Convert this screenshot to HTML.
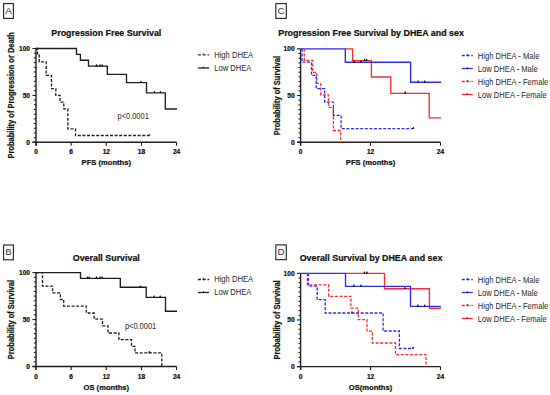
<!DOCTYPE html><html><head><meta charset="utf-8"><style>html,body{margin:0;padding:0;background:#fff;}svg{display:block;}</style></head><body>
<svg width="550" height="395" viewBox="0 0 550 395" font-family='"Liberation Sans", sans-serif'>
<style>.b{font-weight:bold;fill:#111;stroke:#111;stroke-width:0.22}.r{fill:#303030;stroke:#303030;stroke-width:0.05}</style>
<rect width="550" height="395" fill="#fff"/>
<rect x="3.6" y="3.6" width="9.8" height="14.8" fill="none" stroke="#1e1e1e" stroke-width="1.1"/>
<text x="8.50" y="13.50" font-size="9.8" text-anchor="middle" fill="#333">A</text>
<path d="M36.0,48.5 V145.5" stroke="#1e1e1e" stroke-width="1.4" fill="none"/>
<path d="M32.4,142.3 H176.6" stroke="#1e1e1e" stroke-width="1.4" fill="none"/>
<path d="M32.4,142.30 H36.0" stroke="#1e1e1e" stroke-width="1.1" fill="none"/>
<path d="M32.4,95.40 H36.0" stroke="#1e1e1e" stroke-width="1.1" fill="none"/>
<path d="M32.4,48.50 H36.0" stroke="#1e1e1e" stroke-width="1.1" fill="none"/>
<path d="M33.8,137.61 H36.0" stroke="#1e1e1e" stroke-width="1.05" fill="none"/>
<path d="M33.8,132.92 H36.0" stroke="#1e1e1e" stroke-width="1.05" fill="none"/>
<path d="M33.8,128.23 H36.0" stroke="#1e1e1e" stroke-width="1.05" fill="none"/>
<path d="M33.8,123.54 H36.0" stroke="#1e1e1e" stroke-width="1.05" fill="none"/>
<path d="M33.8,118.85 H36.0" stroke="#1e1e1e" stroke-width="1.05" fill="none"/>
<path d="M33.8,114.16 H36.0" stroke="#1e1e1e" stroke-width="1.05" fill="none"/>
<path d="M33.8,109.47 H36.0" stroke="#1e1e1e" stroke-width="1.05" fill="none"/>
<path d="M33.8,104.78 H36.0" stroke="#1e1e1e" stroke-width="1.05" fill="none"/>
<path d="M33.8,100.09 H36.0" stroke="#1e1e1e" stroke-width="1.05" fill="none"/>
<path d="M33.8,90.71 H36.0" stroke="#1e1e1e" stroke-width="1.05" fill="none"/>
<path d="M33.8,86.02 H36.0" stroke="#1e1e1e" stroke-width="1.05" fill="none"/>
<path d="M33.8,81.33 H36.0" stroke="#1e1e1e" stroke-width="1.05" fill="none"/>
<path d="M33.8,76.64 H36.0" stroke="#1e1e1e" stroke-width="1.05" fill="none"/>
<path d="M33.8,71.95 H36.0" stroke="#1e1e1e" stroke-width="1.05" fill="none"/>
<path d="M33.8,67.26 H36.0" stroke="#1e1e1e" stroke-width="1.05" fill="none"/>
<path d="M33.8,62.57 H36.0" stroke="#1e1e1e" stroke-width="1.05" fill="none"/>
<path d="M33.8,57.88 H36.0" stroke="#1e1e1e" stroke-width="1.05" fill="none"/>
<path d="M33.8,53.19 H36.0" stroke="#1e1e1e" stroke-width="1.05" fill="none"/>
<path d="M36.0,142.3 V145.70000000000002" stroke="#1e1e1e" stroke-width="1.1" fill="none"/>
<path d="M71.15,142.3 V145.70000000000002" stroke="#1e1e1e" stroke-width="1.1" fill="none"/>
<path d="M106.3,142.3 V145.70000000000002" stroke="#1e1e1e" stroke-width="1.1" fill="none"/>
<path d="M141.45,142.3 V145.70000000000002" stroke="#1e1e1e" stroke-width="1.1" fill="none"/>
<path d="M176.6,142.3 V145.70000000000002" stroke="#1e1e1e" stroke-width="1.1" fill="none"/>
<text x="36.0" y="154.3" font-size="6.6" text-anchor="middle" class="b">0</text>
<text x="71.15" y="154.3" font-size="6.6" text-anchor="middle" class="b">6</text>
<text x="106.3" y="154.3" font-size="6.6" text-anchor="middle" class="b">12</text>
<text x="141.45" y="154.3" font-size="6.6" text-anchor="middle" class="b">18</text>
<text x="176.6" y="154.3" font-size="6.6" text-anchor="middle" class="b">24</text>
<text x="30.0" y="144.70000000000002" font-size="6.6" text-anchor="end" class="b">0</text>
<text x="30.0" y="97.80000000000001" font-size="6.6" text-anchor="end" class="b">50</text>
<text x="30.0" y="50.9" font-size="6.6" text-anchor="end" class="b">100</text>
<text x="106.3" y="165.4" font-size="7.6" text-anchor="middle" class="b">PFS (months)</text>
<text x="0" y="0" font-size="8.2" text-anchor="middle" class="b" textLength="126.26" lengthAdjust="spacingAndGlyphs" transform="translate(14.2,95.40) rotate(-90)">Probability of Progression or Death</text>
<text x="106.3" y="35.8" font-size="8.9" text-anchor="middle" class="b">Progression Free Survival</text>
<path d="M36.0,48.5 H37.5 V55.2 H39.2 V61.9 H46.2 V75.3 H51.5 V88.7 H55.8 V95.4 H60.0 V102.1 H63.8 V108.8 H67.9 V128.9 H75.5 V135.5 H149.5" fill="none" stroke="#1e1e1e" stroke-width="1.3" stroke-dasharray="3,1.6" stroke-linejoin="miter" stroke-linecap="butt"/>
<path d="M148.6,135.5 L149.6,133.6 L150.6,135.5 Z" fill="#2b2bf2"/>
<path d="M36.0,48.5 H76.5 V54.4 H80.4 V60.2 H88.5 V66.1 H107.3 V74.3 H126.5 V82.6 H146.5 V92.8 H165.3 V109.0 H177.0" fill="none" stroke="#1e1e1e" stroke-width="1.35" stroke-linejoin="miter" stroke-linecap="butt"/>
<path d="M95.5,66.39999999999999 L96.1,64.3 L96.9,64.3 L97.5,66.39999999999999 Z" fill="#111"/>
<path d="M99.0,66.39999999999999 L99.6,64.3 L100.4,64.3 L101.0,66.39999999999999 Z" fill="#111"/>
<path d="M101.3,66.39999999999999 L101.89999999999999,64.3 L102.7,64.3 L103.3,66.39999999999999 Z" fill="#111"/>
<path d="M139.9,82.89999999999999 L140.5,80.8 L141.3,80.8 L141.9,82.89999999999999 Z" fill="#111"/>
<path d="M153.3,93.1 L153.9,91.0 L154.70000000000002,91.0 L155.3,93.1 Z" fill="#111"/>
<path d="M159.5,93.1 L160.1,91.0 L160.9,91.0 L161.5,93.1 Z" fill="#111"/>
<path d="M197.9,54.8 H209.1" stroke="#333" stroke-width="1.3" stroke-dasharray="3,1.8" fill="none"/>
<path d="M202.5,54.8 L203.5,53.0 L204.5,54.8 Z" fill="#2b2bf2"/>
<path d="M197.9,68.0 H209.1" stroke="#1e1e1e" stroke-width="1.3" fill="none"/>
<path d="M202.5,68.0 L203.5,66.2 L204.5,68.0 Z" fill="#1e1e1e"/>
<text x="214.2" y="57.7" font-size="8.4" text-anchor="start" class="r" textLength="38.86" lengthAdjust="spacingAndGlyphs">High DHEA</text>
<text x="214.2" y="70.5" font-size="8.4" text-anchor="start" class="r" textLength="37.17" lengthAdjust="spacingAndGlyphs">Low DHEA</text>
<text x="117.5" y="119.3" font-size="8.2" text-anchor="start" class="r" textLength="31.28" lengthAdjust="spacingAndGlyphs">p&lt;0.0001</text>
<rect x="3.6" y="245.0" width="9.8" height="14.8" fill="none" stroke="#1e1e1e" stroke-width="1.1"/>
<text x="8.50" y="254.90" font-size="9.8" text-anchor="middle" fill="#333">B</text>
<path d="M36.0,272.6 V369.7" stroke="#1e1e1e" stroke-width="1.4" fill="none"/>
<path d="M32.4,366.5 H176.6" stroke="#1e1e1e" stroke-width="1.4" fill="none"/>
<path d="M32.4,366.50 H36.0" stroke="#1e1e1e" stroke-width="1.1" fill="none"/>
<path d="M32.4,319.55 H36.0" stroke="#1e1e1e" stroke-width="1.1" fill="none"/>
<path d="M32.4,272.60 H36.0" stroke="#1e1e1e" stroke-width="1.1" fill="none"/>
<path d="M33.8,361.81 H36.0" stroke="#1e1e1e" stroke-width="1.05" fill="none"/>
<path d="M33.8,357.11 H36.0" stroke="#1e1e1e" stroke-width="1.05" fill="none"/>
<path d="M33.8,352.42 H36.0" stroke="#1e1e1e" stroke-width="1.05" fill="none"/>
<path d="M33.8,347.72 H36.0" stroke="#1e1e1e" stroke-width="1.05" fill="none"/>
<path d="M33.8,343.02 H36.0" stroke="#1e1e1e" stroke-width="1.05" fill="none"/>
<path d="M33.8,338.33 H36.0" stroke="#1e1e1e" stroke-width="1.05" fill="none"/>
<path d="M33.8,333.63 H36.0" stroke="#1e1e1e" stroke-width="1.05" fill="none"/>
<path d="M33.8,328.94 H36.0" stroke="#1e1e1e" stroke-width="1.05" fill="none"/>
<path d="M33.8,324.25 H36.0" stroke="#1e1e1e" stroke-width="1.05" fill="none"/>
<path d="M33.8,314.86 H36.0" stroke="#1e1e1e" stroke-width="1.05" fill="none"/>
<path d="M33.8,310.16 H36.0" stroke="#1e1e1e" stroke-width="1.05" fill="none"/>
<path d="M33.8,305.47 H36.0" stroke="#1e1e1e" stroke-width="1.05" fill="none"/>
<path d="M33.8,300.77 H36.0" stroke="#1e1e1e" stroke-width="1.05" fill="none"/>
<path d="M33.8,296.08 H36.0" stroke="#1e1e1e" stroke-width="1.05" fill="none"/>
<path d="M33.8,291.38 H36.0" stroke="#1e1e1e" stroke-width="1.05" fill="none"/>
<path d="M33.8,286.69 H36.0" stroke="#1e1e1e" stroke-width="1.05" fill="none"/>
<path d="M33.8,281.99 H36.0" stroke="#1e1e1e" stroke-width="1.05" fill="none"/>
<path d="M33.8,277.30 H36.0" stroke="#1e1e1e" stroke-width="1.05" fill="none"/>
<path d="M36.0,366.5 V369.9" stroke="#1e1e1e" stroke-width="1.1" fill="none"/>
<path d="M71.15,366.5 V369.9" stroke="#1e1e1e" stroke-width="1.1" fill="none"/>
<path d="M106.3,366.5 V369.9" stroke="#1e1e1e" stroke-width="1.1" fill="none"/>
<path d="M141.45,366.5 V369.9" stroke="#1e1e1e" stroke-width="1.1" fill="none"/>
<path d="M176.6,366.5 V369.9" stroke="#1e1e1e" stroke-width="1.1" fill="none"/>
<text x="36.0" y="378.5" font-size="6.6" text-anchor="middle" class="b">0</text>
<text x="71.15" y="378.5" font-size="6.6" text-anchor="middle" class="b">6</text>
<text x="106.3" y="378.5" font-size="6.6" text-anchor="middle" class="b">12</text>
<text x="141.45" y="378.5" font-size="6.6" text-anchor="middle" class="b">18</text>
<text x="176.6" y="378.5" font-size="6.6" text-anchor="middle" class="b">24</text>
<text x="30.0" y="368.9" font-size="6.6" text-anchor="end" class="b">0</text>
<text x="30.0" y="321.95" font-size="6.6" text-anchor="end" class="b">50</text>
<text x="30.0" y="275.0" font-size="6.6" text-anchor="end" class="b">100</text>
<text x="106.3" y="389.6" font-size="7.6" text-anchor="middle" class="b">OS (months)</text>
<text x="0" y="0" font-size="8.2" text-anchor="middle" class="b" textLength="79.18" lengthAdjust="spacingAndGlyphs" transform="translate(14.2,319.55) rotate(-90)">Probability of Survival</text>
<text x="106.3" y="260.8" font-size="8.9" text-anchor="middle" class="b">Overall Survival</text>
<path d="M36.0,272.6 H42.5 V286.1 H52.6 V292.9 H60.4 V299.5 H63.7 V306.1 H86.2 V313.0 H94.1 V319.1 H102.5 V325.8 H108.0 V333.0 H118.9 V339.7 H131.5 V346.3 H135.0 V352.9 H161.8 V367.2" fill="none" stroke="#1e1e1e" stroke-width="1.3" stroke-dasharray="3,1.6" stroke-linejoin="miter" stroke-linecap="butt"/>
<path d="M148.3,353.2 L148.9,351.09999999999997 L149.70000000000002,351.09999999999997 L150.3,353.2 Z" fill="#111"/>
<path d="M36.0,272.6 H80.5 V278.3 H120.3 V287.2 H146.2 V297.3 H165.5 V311.2 H177.0" fill="none" stroke="#1e1e1e" stroke-width="1.35" stroke-linejoin="miter" stroke-linecap="butt"/>
<path d="M86.5,278.6 L87.1,276.5 L87.9,276.5 L88.5,278.6 Z" fill="#111"/>
<path d="M88.2,278.6 L88.8,276.5 L89.60000000000001,276.5 L90.2,278.6 Z" fill="#111"/>
<path d="M95.5,278.6 L96.1,276.5 L96.9,276.5 L97.5,278.6 Z" fill="#111"/>
<path d="M99.2,278.6 L99.8,276.5 L100.60000000000001,276.5 L101.2,278.6 Z" fill="#111"/>
<path d="M101.2,278.6 L101.8,276.5 L102.60000000000001,276.5 L103.2,278.6 Z" fill="#111"/>
<path d="M139.5,287.5 L140.1,285.4 L140.9,285.4 L141.5,287.5 Z" fill="#111"/>
<path d="M153.0,297.6 L153.6,295.5 L154.4,295.5 L155.0,297.6 Z" fill="#111"/>
<path d="M159.2,297.6 L159.79999999999998,295.5 L160.6,295.5 L161.2,297.6 Z" fill="#111"/>
<path d="M197.9,279.5 H209.1" stroke="#1e1e1e" stroke-width="1.3" stroke-dasharray="3,1.8" fill="none"/>
<path d="M202.5,279.5 L203.5,277.7 L204.5,279.5 Z" fill="#1e1e1e"/>
<path d="M197.9,292.5 H209.1" stroke="#1e1e1e" stroke-width="1.3" fill="none"/>
<path d="M202.5,292.5 L203.5,290.7 L204.5,292.5 Z" fill="#1e1e1e"/>
<text x="214.2" y="281.9" font-size="8.4" text-anchor="start" class="r" textLength="38.86" lengthAdjust="spacingAndGlyphs">High DHEA</text>
<text x="214.2" y="294.6" font-size="8.4" text-anchor="start" class="r" textLength="37.17" lengthAdjust="spacingAndGlyphs">Low DHEA</text>
<text x="124.9" y="328.9" font-size="8.2" text-anchor="start" class="r" textLength="31.28" lengthAdjust="spacingAndGlyphs">p&lt;0.0001</text>
<rect x="275.85" y="3.6" width="10.45" height="14.8" fill="none" stroke="#1e1e1e" stroke-width="1.1"/>
<text x="281.08" y="13.50" font-size="9.8" text-anchor="middle" fill="#333">C</text>
<path d="M300.6,48.8 V145.5" stroke="#1e1e1e" stroke-width="1.4" fill="none"/>
<path d="M297.0,142.3 H440.5" stroke="#1e1e1e" stroke-width="1.4" fill="none"/>
<path d="M297.0,142.30 H300.6" stroke="#1e1e1e" stroke-width="1.1" fill="none"/>
<path d="M297.0,95.55 H300.6" stroke="#1e1e1e" stroke-width="1.1" fill="none"/>
<path d="M297.0,48.80 H300.6" stroke="#1e1e1e" stroke-width="1.1" fill="none"/>
<path d="M298.40000000000003,137.62 H300.6" stroke="#1e1e1e" stroke-width="1.05" fill="none"/>
<path d="M298.40000000000003,132.95 H300.6" stroke="#1e1e1e" stroke-width="1.05" fill="none"/>
<path d="M298.40000000000003,128.28 H300.6" stroke="#1e1e1e" stroke-width="1.05" fill="none"/>
<path d="M298.40000000000003,123.60 H300.6" stroke="#1e1e1e" stroke-width="1.05" fill="none"/>
<path d="M298.40000000000003,118.93 H300.6" stroke="#1e1e1e" stroke-width="1.05" fill="none"/>
<path d="M298.40000000000003,114.25 H300.6" stroke="#1e1e1e" stroke-width="1.05" fill="none"/>
<path d="M298.40000000000003,109.58 H300.6" stroke="#1e1e1e" stroke-width="1.05" fill="none"/>
<path d="M298.40000000000003,104.90 H300.6" stroke="#1e1e1e" stroke-width="1.05" fill="none"/>
<path d="M298.40000000000003,100.22 H300.6" stroke="#1e1e1e" stroke-width="1.05" fill="none"/>
<path d="M298.40000000000003,90.88 H300.6" stroke="#1e1e1e" stroke-width="1.05" fill="none"/>
<path d="M298.40000000000003,86.20 H300.6" stroke="#1e1e1e" stroke-width="1.05" fill="none"/>
<path d="M298.40000000000003,81.53 H300.6" stroke="#1e1e1e" stroke-width="1.05" fill="none"/>
<path d="M298.40000000000003,76.85 H300.6" stroke="#1e1e1e" stroke-width="1.05" fill="none"/>
<path d="M298.40000000000003,72.17 H300.6" stroke="#1e1e1e" stroke-width="1.05" fill="none"/>
<path d="M298.40000000000003,67.50 H300.6" stroke="#1e1e1e" stroke-width="1.05" fill="none"/>
<path d="M298.40000000000003,62.83 H300.6" stroke="#1e1e1e" stroke-width="1.05" fill="none"/>
<path d="M298.40000000000003,58.15 H300.6" stroke="#1e1e1e" stroke-width="1.05" fill="none"/>
<path d="M298.40000000000003,53.47 H300.6" stroke="#1e1e1e" stroke-width="1.05" fill="none"/>
<path d="M300.6,142.3 V145.70000000000002" stroke="#1e1e1e" stroke-width="1.1" fill="none"/>
<path d="M370.55,142.3 V145.70000000000002" stroke="#1e1e1e" stroke-width="1.1" fill="none"/>
<path d="M440.5,142.3 V145.70000000000002" stroke="#1e1e1e" stroke-width="1.1" fill="none"/>
<text x="300.6" y="154.3" font-size="6.6" text-anchor="middle" class="b">0</text>
<text x="370.55" y="154.3" font-size="6.6" text-anchor="middle" class="b">12</text>
<text x="440.5" y="154.3" font-size="6.6" text-anchor="middle" class="b">24</text>
<text x="294.6" y="144.70000000000002" font-size="6.6" text-anchor="end" class="b">0</text>
<text x="294.6" y="97.95000000000002" font-size="6.6" text-anchor="end" class="b">50</text>
<text x="294.6" y="51.199999999999996" font-size="6.6" text-anchor="end" class="b">100</text>
<text x="370.55" y="165.4" font-size="7.6" text-anchor="middle" class="b">PFS (months)</text>
<text x="0" y="0" font-size="8.2" text-anchor="middle" class="b" textLength="79.18" lengthAdjust="spacingAndGlyphs" transform="translate(280.2,95.55) rotate(-90)">Probability of Survival</text>
<text x="371.05" y="36.2" font-size="8.9" text-anchor="middle" class="b">Progression Free Survival by DHEA and sex</text>
<path d="M345.3,48.8 H352.6 V60.6 H371.4 V77.0 H390.8 V93.4 H429.2 V117.9 H441.0" fill="none" stroke="#ff2b2b" stroke-width="1.35" stroke-linejoin="miter" stroke-linecap="butt"/>
<path d="M300.6,48.8 H345.3 V62.2 H410.6 V82.2 H441.0" fill="none" stroke="#2b2bf2" stroke-width="1.35" stroke-linejoin="miter" stroke-linecap="butt"/>
<path d="M353.0,62.5 L353.6,60.400000000000006 L354.4,60.400000000000006 L355.0,62.5 Z" fill="#111"/>
<path d="M359.8,62.5 L360.40000000000003,60.400000000000006 L361.2,60.400000000000006 L361.8,62.5 Z" fill="#111"/>
<path d="M363.6,60.9 L364.20000000000005,58.800000000000004 L365.0,58.800000000000004 L365.6,60.9 Z" fill="#111"/>
<path d="M365.6,60.9 L366.20000000000005,58.800000000000004 L367.0,58.800000000000004 L367.6,60.9 Z" fill="#111"/>
<path d="M404.2,93.7 L404.8,91.60000000000001 L405.59999999999997,91.60000000000001 L406.2,93.7 Z" fill="#111"/>
<path d="M417.2,82.5 L417.8,80.4 L418.59999999999997,80.4 L419.2,82.5 Z" fill="#111"/>
<path d="M423.6,82.5 L424.20000000000005,80.4 L425.0,80.4 L425.6,82.5 Z" fill="#111"/>
<path d="M304.3,48.8 H304.3 V60.5 H312.7 V72.3 H316.8 V83.3 H320.7 V94.8 H328.5 V107.4 H333.4 V130.5 H340.5 V143.0" fill="none" stroke="#ff2b2b" stroke-width="1.3" stroke-dasharray="3,1.6" stroke-linejoin="miter" stroke-linecap="butt"/>
<path d="M302.1,48.8 H302.1 V62.2 H311.5 V75.3 H316.2 V88.7 H324.7 V102.2 H333.4 V115.4 H341.1 V128.7 H413.5" fill="none" stroke="#2b2bf2" stroke-width="1.3" stroke-dasharray="3,1.6" stroke-linejoin="miter" stroke-linecap="butt"/>
<path d="M412.3,129.0 L412.90000000000003,126.89999999999999 L413.7,126.89999999999999 L414.3,129.0 Z" fill="#111"/>
<path d="M461.8,55.5 H472.7" stroke="#2b2bf2" stroke-width="1.3" stroke-dasharray="3,1.8" fill="none"/>
<path d="M466.25,55.5 L467.25,53.7 L468.25,55.5 Z" fill="#1e1e1e"/>
<text x="477.8" y="58.8" font-size="8.4" text-anchor="start" class="r" textLength="61.66" lengthAdjust="spacingAndGlyphs">High DHEA - Male</text>
<path d="M461.8,68.5 H472.7" stroke="#2b2bf2" stroke-width="1.3" fill="none"/>
<path d="M466.25,68.5 L467.25,66.7 L468.25,68.5 Z" fill="#1e1e1e"/>
<text x="477.8" y="71.8" font-size="8.4" text-anchor="start" class="r" textLength="59.97" lengthAdjust="spacingAndGlyphs">Low DHEA - Male</text>
<path d="M461.8,81.5 H472.7" stroke="#ff2b2b" stroke-width="1.3" stroke-dasharray="3,1.8" fill="none"/>
<path d="M466.25,81.5 L467.25,79.7 L468.25,81.5 Z" fill="#1e1e1e"/>
<text x="477.8" y="84.9" font-size="8.4" text-anchor="start" class="r" textLength="70.53" lengthAdjust="spacingAndGlyphs">High DHEA - Female</text>
<path d="M461.8,94.5 H472.7" stroke="#ff2b2b" stroke-width="1.3" fill="none"/>
<path d="M466.25,94.5 L467.25,92.7 L468.25,94.5 Z" fill="#1e1e1e"/>
<text x="477.8" y="97.6" font-size="8.4" text-anchor="start" class="r" textLength="68.84" lengthAdjust="spacingAndGlyphs">Low DHEA - Female</text>
<rect x="275.85" y="244.9" width="10.45" height="14.8" fill="none" stroke="#1e1e1e" stroke-width="1.1"/>
<text x="281.08" y="254.80" font-size="9.8" text-anchor="middle" fill="#333">D</text>
<path d="M300.6,273.3 V369.8" stroke="#1e1e1e" stroke-width="1.4" fill="none"/>
<path d="M297.0,366.6 H440.5" stroke="#1e1e1e" stroke-width="1.4" fill="none"/>
<path d="M297.0,366.60 H300.6" stroke="#1e1e1e" stroke-width="1.1" fill="none"/>
<path d="M297.0,319.95 H300.6" stroke="#1e1e1e" stroke-width="1.1" fill="none"/>
<path d="M297.0,273.30 H300.6" stroke="#1e1e1e" stroke-width="1.1" fill="none"/>
<path d="M298.40000000000003,361.94 H300.6" stroke="#1e1e1e" stroke-width="1.05" fill="none"/>
<path d="M298.40000000000003,357.27 H300.6" stroke="#1e1e1e" stroke-width="1.05" fill="none"/>
<path d="M298.40000000000003,352.61 H300.6" stroke="#1e1e1e" stroke-width="1.05" fill="none"/>
<path d="M298.40000000000003,347.94 H300.6" stroke="#1e1e1e" stroke-width="1.05" fill="none"/>
<path d="M298.40000000000003,343.28 H300.6" stroke="#1e1e1e" stroke-width="1.05" fill="none"/>
<path d="M298.40000000000003,338.61 H300.6" stroke="#1e1e1e" stroke-width="1.05" fill="none"/>
<path d="M298.40000000000003,333.95 H300.6" stroke="#1e1e1e" stroke-width="1.05" fill="none"/>
<path d="M298.40000000000003,329.28 H300.6" stroke="#1e1e1e" stroke-width="1.05" fill="none"/>
<path d="M298.40000000000003,324.62 H300.6" stroke="#1e1e1e" stroke-width="1.05" fill="none"/>
<path d="M298.40000000000003,315.29 H300.6" stroke="#1e1e1e" stroke-width="1.05" fill="none"/>
<path d="M298.40000000000003,310.62 H300.6" stroke="#1e1e1e" stroke-width="1.05" fill="none"/>
<path d="M298.40000000000003,305.96 H300.6" stroke="#1e1e1e" stroke-width="1.05" fill="none"/>
<path d="M298.40000000000003,301.29 H300.6" stroke="#1e1e1e" stroke-width="1.05" fill="none"/>
<path d="M298.40000000000003,296.62 H300.6" stroke="#1e1e1e" stroke-width="1.05" fill="none"/>
<path d="M298.40000000000003,291.96 H300.6" stroke="#1e1e1e" stroke-width="1.05" fill="none"/>
<path d="M298.40000000000003,287.30 H300.6" stroke="#1e1e1e" stroke-width="1.05" fill="none"/>
<path d="M298.40000000000003,282.63 H300.6" stroke="#1e1e1e" stroke-width="1.05" fill="none"/>
<path d="M298.40000000000003,277.97 H300.6" stroke="#1e1e1e" stroke-width="1.05" fill="none"/>
<path d="M300.6,366.6 V370.0" stroke="#1e1e1e" stroke-width="1.1" fill="none"/>
<path d="M370.55,366.6 V370.0" stroke="#1e1e1e" stroke-width="1.1" fill="none"/>
<path d="M440.5,366.6 V370.0" stroke="#1e1e1e" stroke-width="1.1" fill="none"/>
<text x="300.6" y="378.6" font-size="6.6" text-anchor="middle" class="b">0</text>
<text x="370.55" y="378.6" font-size="6.6" text-anchor="middle" class="b">12</text>
<text x="440.5" y="378.6" font-size="6.6" text-anchor="middle" class="b">24</text>
<text x="294.6" y="369.0" font-size="6.6" text-anchor="end" class="b">0</text>
<text x="294.6" y="322.35" font-size="6.6" text-anchor="end" class="b">50</text>
<text x="294.6" y="275.7" font-size="6.6" text-anchor="end" class="b">100</text>
<text x="370.55" y="389.70000000000005" font-size="7.6" text-anchor="middle" class="b">OS(months)</text>
<text x="0" y="0" font-size="8.2" text-anchor="middle" class="b" textLength="79.18" lengthAdjust="spacingAndGlyphs" transform="translate(280.2,319.95) rotate(-90)">Probability of Survival</text>
<text x="371.05" y="261.2" font-size="8.9" text-anchor="middle" class="b">Overall Survival by DHEA and sex</text>
<path d="M345.5,273.3 H384.5 V288.7 H429.4 V308.2 H440.9" fill="none" stroke="#ff2b2b" stroke-width="1.35" stroke-linejoin="miter" stroke-linecap="butt"/>
<path d="M300.6,273.3 H345.5 V286.4 H410.5 V306.4 H440.9" fill="none" stroke="#2b2bf2" stroke-width="1.35" stroke-linejoin="miter" stroke-linecap="butt"/>
<path d="M363.5,273.6 L364.1,271.5 L364.9,271.5 L365.5,273.6 Z" fill="#111"/>
<path d="M366.0,273.6 L366.6,271.5 L367.4,271.5 L368.0,273.6 Z" fill="#111"/>
<path d="M403.8,289.0 L404.40000000000003,286.9 L405.2,286.9 L405.8,289.0 Z" fill="#111"/>
<path d="M352.8,286.7 L353.40000000000003,284.59999999999997 L354.2,284.59999999999997 L354.8,286.7 Z" fill="#111"/>
<path d="M360.0,286.7 L360.6,284.59999999999997 L361.4,284.59999999999997 L362.0,286.7 Z" fill="#111"/>
<path d="M417.0,306.7 L417.6,304.59999999999997 L418.4,304.59999999999997 L419.0,306.7 Z" fill="#111"/>
<path d="M423.7,306.7 L424.3,304.59999999999997 L425.09999999999997,304.59999999999997 L425.7,306.7 Z" fill="#111"/>
<path d="M307.3,273.3 H307.3 V284.9 H328.6 V296.3 H350.9 V308.1 H358.3 V319.7 H367.0 V331.2 H372.3 V343.0 H395.5 V354.6 H426.0 V367.3" fill="none" stroke="#ff2b2b" stroke-width="1.3" stroke-dasharray="3,1.6" stroke-linejoin="miter" stroke-linecap="butt"/>
<path d="M308.4,273.3 H308.4 V286.2 H317.2 V299.7 H325.2 V313.0 H383.1 V331.0 H399.4 V348.5 H413.2" fill="none" stroke="#2b2bf2" stroke-width="1.3" stroke-dasharray="3,1.6" stroke-linejoin="miter" stroke-linecap="butt"/>
<path d="M351.0,313.3 L351.6,311.2 L352.4,311.2 L353.0,313.3 Z" fill="#111"/>
<path d="M412.0,348.8 L412.6,346.7 L413.4,346.7 L414.0,348.8 Z" fill="#111"/>
<path d="M461.8,279.5 H472.7" stroke="#2b2bf2" stroke-width="1.3" stroke-dasharray="3,1.8" fill="none"/>
<path d="M466.25,279.5 L467.25,277.7 L468.25,279.5 Z" fill="#1e1e1e"/>
<text x="477.8" y="282.7" font-size="8.4" text-anchor="start" class="r" textLength="61.66" lengthAdjust="spacingAndGlyphs">High DHEA - Male</text>
<path d="M461.8,292.5 H472.7" stroke="#2b2bf2" stroke-width="1.3" fill="none"/>
<path d="M466.25,292.5 L467.25,290.7 L468.25,292.5 Z" fill="#1e1e1e"/>
<text x="477.8" y="295.8" font-size="8.4" text-anchor="start" class="r" textLength="59.97" lengthAdjust="spacingAndGlyphs">Low DHEA - Male</text>
<path d="M461.8,305.5 H472.7" stroke="#ff2b2b" stroke-width="1.3" stroke-dasharray="3,1.8" fill="none"/>
<path d="M466.25,305.5 L467.25,303.7 L468.25,305.5 Z" fill="#1e1e1e"/>
<text x="477.8" y="308.7" font-size="8.4" text-anchor="start" class="r" textLength="70.53" lengthAdjust="spacingAndGlyphs">High DHEA - Female</text>
<path d="M461.8,318.5 H472.7" stroke="#ff2b2b" stroke-width="1.3" fill="none"/>
<path d="M466.25,318.5 L467.25,316.7 L468.25,318.5 Z" fill="#1e1e1e"/>
<text x="477.8" y="321.6" font-size="8.4" text-anchor="start" class="r" textLength="68.84" lengthAdjust="spacingAndGlyphs">Low DHEA - Female</text>
</svg></body></html>
